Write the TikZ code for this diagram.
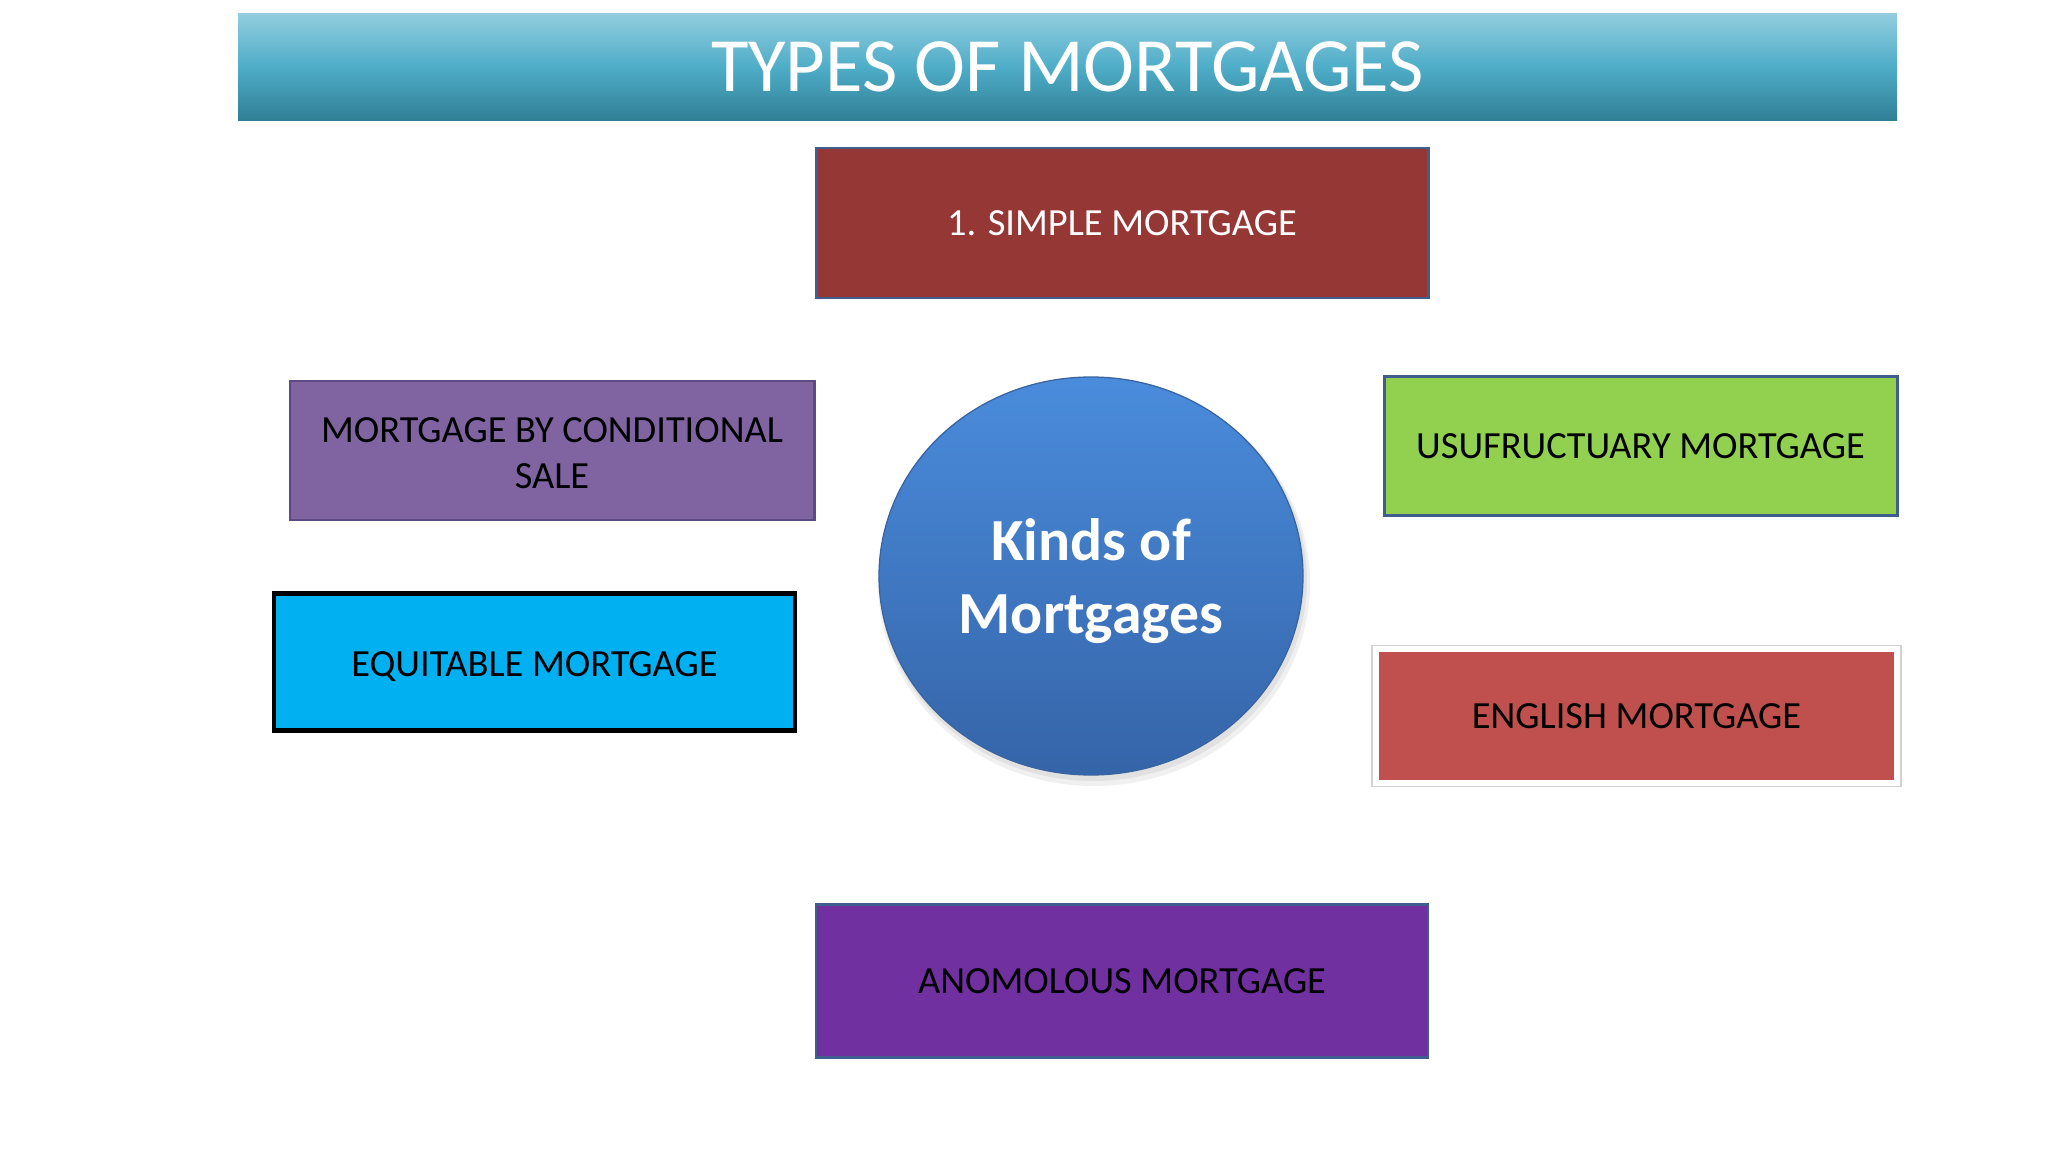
\documentclass[tikz,border=0pt]{standalone}
\usepackage{fontspec}
\setmainfont{Carlito}
\usetikzlibrary{shapes.geometric,shadows}
\def\px{0.46875pt}
\definecolor{titletop}{HTML}{92CDDF}
\definecolor{titlemid}{HTML}{4EADC8}
\definecolor{titlebot}{HTML}{307F95}
\definecolor{simplefill}{HTML}{953735}
\definecolor{boxline}{HTML}{3F5E8E}
\definecolor{condfill}{HTML}{8064A2}
\definecolor{condline}{HTML}{5E4A80}
\definecolor{equitfill}{HTML}{00B0F0}
\definecolor{usuffill}{HTML}{92D050}
\definecolor{engfill}{HTML}{C0504D}
\definecolor{anomfill}{HTML}{7030A0}
\definecolor{circtop}{HTML}{4A8CDC}
\definecolor{circbot}{HTML}{3564A8}
\definecolor{circline}{HTML}{3A64A0}
\tikzset{
  kindbox/.style={rectangle, inner sep=0pt, align=center, font=\fontsize{18}{21.5}\selectfont, text=black},
  kindtext/.style={inner sep=0pt, align=center, font=\fontsize{18}{21.5}\selectfont, text=black},
}
\begin{document}
\begin{tikzpicture}[x=\px, y=-\px]
\useasboundingbox[fill=white] (0,0) rectangle (2048,1152);
% title bar
\node[rectangle, inner sep=0pt, minimum width=1659*\px, minimum height=107*\px,
      top color=titletop, bottom color=titlebot, middle color=titlemid,
      text=white, font=\fontsize{36}{40}\selectfont] (title) at (1067.5,67) {TYPES OF MORTGAGES};
% boxes
\node[kindbox, minimum width=612*\px, minimum height=150*\px, fill=simplefill, draw=boxline, line width=1.4pt, text=white] (simple) at (1122,223) {1. SIMPLE MORTGAGE};
\node[kindbox, minimum width=524*\px, minimum height=139*\px, fill=condfill, draw=condline, line width=1.4pt] (cond) at (552,450.5) {};
\node[kindtext] (condtext) at (552,453) {MORTGAGE BY CONDITIONAL\\SALE};
\node[kindbox, minimum width=521*\px, minimum height=137*\px, fill=equitfill, draw=black, line width=1.9pt] (equit) at (534.5,662) {};
\node[kindtext] (equittext) at (534.5,667) {EQUITABLE MORTGAGE};
\node[kindbox, minimum width=513*\px, minimum height=139*\px, fill=usuffill, draw=boxline, line width=1.4pt] (usuf) at (1640.5,446) {USUFRUCTUARY MORTGAGE};
\node[kindbox, minimum width=522*\px, minimum height=134*\px, fill=engfill, draw=white, line width=3.2pt,
      drop shadow={shadow xshift=1pt, shadow yshift=-2pt, opacity=0.35, fill=black!60}] (eng) at (1636.5,716) {ENGLISH MORTGAGE};
\draw[black!18, line width=0.6pt] (eng.north west) rectangle (eng.south east);
\node[kindbox, minimum width=612*\px, minimum height=153*\px, fill=anomfill, draw=boxline, line width=1.2pt] (anom) at (1122,981) {ANOMOLOUS MORTGAGE};
% circle shadow
\fill[black, opacity=0.06] (1094,583) ellipse [x radius=216, y radius=203];
\fill[black, opacity=0.06] (1093,580) ellipse [x radius=214, y radius=201];
\node[ellipse, inner sep=0pt, minimum width=424*\px, minimum height=398*\px,
      top color=circtop, bottom color=circbot, draw=circline, line width=0.6pt] (center) at (1091,576) {};
\node[text=white, align=center, font=\fontsize{28}{34}\selectfont\bfseries, inner sep=0pt] (centertext) at (1091,581) {Kinds of\\Mortgages};
\end{tikzpicture}
\end{document}
